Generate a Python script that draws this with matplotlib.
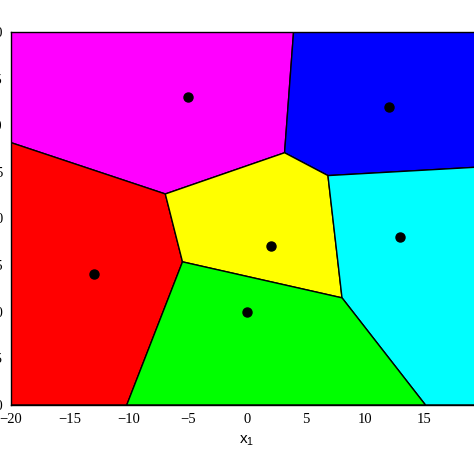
import matplotlib
matplotlib.use("Agg")
import matplotlib.pyplot as plt
import numpy as np

# sites of the Voronoi cells
sitios_x = [-5, 12, -13, 2, 13, 0]
sitios_y = [13, 12, -6, -3, -2, -10]
colores = ["magenta", "blue", "red", "yellow", "cyan", "lime"]

xlim = (-20, 20)
ylim = (-20, 20)
xticks = [-20, -15, -10, -5, 0, 5, 10, 15]
yticks = [-20, -15, -10, -5, 0, 5, 10, 15, 20]


def recortar(poly, a, b, c):
    # keep the part of poly where a*x + b*y <= c
    out = []
    n = len(poly)
    for i in range(n):
        p = poly[i]
        q = poly[(i + 1) % n]
        fp = a * p[0] + b * p[1] - c
        fq = a * q[0] + b * q[1] - c
        if fp <= 0:
            out.append(p)
        if fp * fq < 0:
            t = fp / (fp - fq)
            out.append((p[0] + t * (q[0] - p[0]), p[1] + t * (q[1] - p[1])))
    return out


def celda(i):
    poly = [(xlim[0], ylim[0]), (xlim[1], ylim[0]), (xlim[1], ylim[1]), (xlim[0], ylim[1])]
    xi, yi = sitios_x[i], sitios_y[i]
    for j in range(len(sitios_x)):
        if j == i:
            continue
        xj, yj = sitios_x[j], sitios_y[j]
        # closer to i than to j
        a = xj - xi
        b = yj - yi
        c = (xj**2 + yj**2 - xi**2 - yi**2) / 2.0
        poly = recortar(poly, a, b, c)
    return np.array(poly)


plt.rcParams["font.family"] = ["Liberation Serif", "DejaVu Serif"]

fig = plt.figure(figsize=(4.74, 4.74), dpi=100)
ax = fig.add_axes([0.0232, 0.1456, 0.996, 0.787])

for i in range(len(sitios_x)):
    pts = celda(i)
    ax.fill(pts[:, 0], pts[:, 1], facecolor=colores[i], edgecolor="black", linewidth=1.0)

ax.plot(sitios_x, sitios_y, "o", color="black", markersize=6.5)

ax.set_xlim(xlim)
ax.set_ylim(ylim)
ax.set_xticks(xticks)
ax.set_yticks(yticks)
ax.tick_params(length=0, labelsize=10.5, pad=6)
ax.set_xlabel(r"$\mathregular{x_1}$", family=["Liberation Sans"], fontsize=11, labelpad=5)
for s in ax.spines.values():
    s.set_linewidth(1.0)

fig.savefig("out.png", dpi=100)
